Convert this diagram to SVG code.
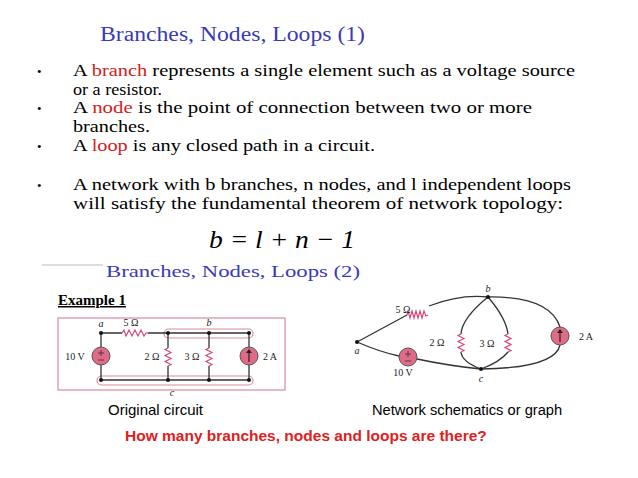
<svg xmlns="http://www.w3.org/2000/svg" width="638" height="478" viewBox="0 0 638 478">
<style>
.t{font-family:"Liberation Serif",serif;fill:#000}
.h{font-family:"Liberation Serif",serif;fill:#3a3ab8}
.r{fill:#d42020}
.s{font-family:"Liberation Serif",serif;font-size:10px;fill:#222}
.i{font-style:italic}
.w{fill:none;stroke:#333;stroke-width:1.3}
.p{fill:none;stroke:#d98a9a;stroke-width:1.2}
.src{fill:#e06a88;stroke:#555;stroke-width:1}
.res{fill:none;stroke:#d44a78;stroke-width:1.2}
.d{fill:#111}
</style>
<rect width="638" height="478" fill="#fff"/>
<text class="h" x="100" y="41" font-size="20" textLength="265" lengthAdjust="spacingAndGlyphs">Branches, Nodes, Loops (1)</text>
<g class="t" font-size="17">
<text x="37" y="76" font-size="13">•</text><text x="73" y="76" textLength="502" lengthAdjust="spacingAndGlyphs">A <tspan class="r">branch</tspan> represents a single element such as a voltage source</text>
<text x="73" y="95" textLength="89" lengthAdjust="spacingAndGlyphs">or a resistor.</text>
<text x="37" y="113" font-size="13">•</text><text x="73" y="113" textLength="459" lengthAdjust="spacingAndGlyphs">A <tspan class="r">node</tspan> is the point of connection between two   or more</text>
<text x="73" y="132" textLength="77" lengthAdjust="spacingAndGlyphs">branches.</text>
<text x="37" y="151" font-size="13">•</text><text x="73" y="151" textLength="302" lengthAdjust="spacingAndGlyphs">A <tspan class="r">loop</tspan> is any closed path in a circuit.</text>
<text x="37" y="190" font-size="13">•</text><text x="73" y="190" textLength="498" lengthAdjust="spacingAndGlyphs">A network with b branches, n nodes, and l independent loops</text>
<text x="73" y="209" textLength="490" lengthAdjust="spacingAndGlyphs">will satisfy the fundamental theorem of network topology:</text>
</g>
<text class="t i" x="209" y="248" font-size="26" textLength="146" lengthAdjust="spacingAndGlyphs">b = l + n − 1</text>
<line x1="42" y1="265" x2="103" y2="265" stroke="#bbb" stroke-width="1"/>
<text class="h" x="106" y="277" font-size="17" textLength="254" lengthAdjust="spacingAndGlyphs">Branches, Nodes, Loops (2)</text>
<text class="t" x="58" y="305" font-size="15" font-weight="bold" text-decoration="underline">Example 1</text>

<g id="left">
<rect x="58" y="318" width="227" height="72" fill="none" stroke="#d98a9a" stroke-width="1.2"/>
<rect class="p" x="164" y="329" width="89" height="9" rx="4.5"/>
<rect class="p" x="97" y="376" width="156" height="9" rx="4.5"/>
<g class="w">
<path d="M101 347V333H122M148 333H249V380H101V365"/>
<path d="M168 333V348M168 366V380M209 333V348M209 366V380"/>
</g>
<path class="res" d="M122 333l2-3 2 6 3-6 3 6 3-6 3 6 3-6 3 6 2-3 2 0"/>
<path class="res" d="M168 348l-3 1.5 6 3-6 3 6 3-6 3 6 3-3 1.5"/>
<path class="res" d="M209 348l-3 1.5 6 3-6 3 6 3-6 3 6 3-3 1.5"/>
<circle class="src" cx="101" cy="356" r="9"/>
<path d="M98 353h6M101 350v6M98 360h6" stroke="#333" stroke-width="0.8"/>
<circle class="src" cx="249" cy="356" r="9"/>
<path d="M249 362V350" stroke="#222" stroke-width="1.2"/><path d="M246 353l3-4 3 4z" fill="#222"/>
<g class="d"><circle cx="101" cy="333" r="2"/><circle cx="168" cy="333" r="2"/><circle cx="209" cy="333" r="2"/><circle cx="249" cy="333" r="2"/>
<circle cx="101" cy="380" r="2"/><circle cx="168" cy="380" r="2"/><circle cx="209" cy="380" r="2"/><circle cx="249" cy="380" r="2"/></g>
<text class="s i" x="101" y="327" text-anchor="middle">a</text>
<text class="s" x="131" y="326" text-anchor="middle">5 Ω</text>
<text class="s i" x="209" y="326" text-anchor="middle">b</text>
<text class="s" x="75" y="360" text-anchor="middle">10 V</text>
<text class="s" x="152" y="360" text-anchor="middle">2 Ω</text>
<text class="s" x="192" y="360" text-anchor="middle">3 Ω</text>
<text class="s" x="270" y="360" text-anchor="middle">2 A</text>
<text class="s i" x="172" y="396" text-anchor="middle">c</text>
</g>

<g id="right">
<g class="w">
<path d="M357 342L407 315M429 306Q460 294 488 297"/>
<path d="M357 342Q380 352 399 356M417 359Q450 366 481 369"/>
<path d="M488 297Q462 318 461 334M461 352Q462 362 481 369"/>
<path d="M488 297Q506 318 508 334M508 352Q500 362 481 369"/>
<path d="M488 297Q550 296 560 327M560 345Q555 368 481 369"/>
</g>
<path class="res" d="M407 315l1-4 2 7 2-7 2 7 2-7 2 7 2-7 2 7 2-7 2 5 2-1"/>
<path class="res" d="M461 334l-3 1.5 6 3-6 3 6 3-6 3 6 3-3 1.5"/>
<path class="res" d="M508 334l-3 1.5 6 3-6 3 6 3-6 3 6 3-3 1.5"/>
<circle class="src" cx="408" cy="357" r="9"/>
<path d="M405 354h6M408 351v6M405 361h6" stroke="#333" stroke-width="0.8"/>
<circle class="src" cx="560" cy="336" r="9"/>
<path d="M560 342V330" stroke="#222" stroke-width="1.2"/><path d="M557 333l3-4 3 4z" fill="#222"/>
<g class="d"><circle cx="357" cy="342" r="2"/><circle cx="488" cy="297" r="2"/><circle cx="481" cy="369" r="2"/></g>
<text class="s i" x="357" y="354" text-anchor="middle">a</text>
<text class="s i" x="488" y="292" text-anchor="middle">b</text>
<text class="s i" x="481" y="382" text-anchor="middle">c</text>
<text class="s" x="403" y="313" text-anchor="middle">5 Ω</text>
<text class="s" x="437" y="346" text-anchor="middle">2 Ω</text>
<text class="s" x="487" y="347" text-anchor="middle">3 Ω</text>
<text class="s" x="586" y="340" text-anchor="middle">2 A</text>
<text class="s" x="403" y="376" text-anchor="middle">10 V</text>
</g>
<text x="108" y="415" font-family="Liberation Sans,sans-serif" font-size="15">Original circuit</text>
<text x="372" y="415" font-family="Liberation Sans,sans-serif" font-size="14.7">Network schematics or graph</text>
<text x="125" y="441" font-family="Liberation Sans,sans-serif" font-size="15.5" font-weight="bold" fill="#e02020">How many branches, nodes and loops are there?</text>
</svg>
